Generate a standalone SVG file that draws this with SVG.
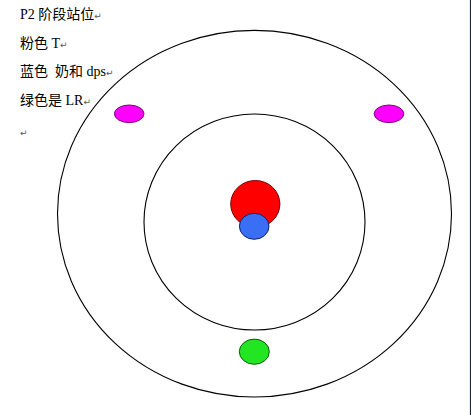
<svg xmlns="http://www.w3.org/2000/svg" width="471" height="415" viewBox="0 0 471 415">
<style>
.t{font-family:"Liberation Serif","Noto Sans CJK SC",serif;font-size:14px;fill:#000}
.m{font-family:"DejaVu Sans",sans-serif;font-size:9px;fill:#555}
.ring{fill:none;stroke:#000;stroke-width:1.1}
</style>
<rect x="0" y="0" width="471" height="415" fill="#fff"/>
<line x1="470.5" y1="0" x2="470.5" y2="415" stroke="#1c2a44" stroke-width="1.2"/>
<g id="legend">
<text class="t" x="20" y="19">P2 阶段站位<tspan class="m">↵</tspan></text>
<text class="t" x="20" y="47.5">粉色 T<tspan class="m">↵</tspan></text>
<text class="t" x="20" y="76" xml:space="preserve">蓝色  奶和 dps<tspan class="m">↵</tspan></text>
<text class="t" x="20" y="104.5">绿色是 LR<tspan class="m">↵</tspan></text>
<text class="m" x="20" y="136">↵</text>
</g>
<g id="outer-ring"><ellipse class="ring" cx="254.5" cy="213.7" rx="197" ry="183.3"/></g>
<g id="inner-ring"><ellipse class="ring" cx="254.5" cy="222" rx="110.5" ry="108"/></g>
<g id="tank-left"><ellipse cx="129.2" cy="113.8" rx="14.8" ry="8.8" fill="#ff00ff" stroke="#7a007a" stroke-width="1"/></g>
<g id="tank-right"><ellipse cx="389" cy="113.8" rx="14.8" ry="8.8" fill="#ff00ff" stroke="#7a007a" stroke-width="1"/></g>
<g id="boss"><ellipse cx="255.3" cy="204" rx="24.6" ry="23.5" fill="#ff0000" stroke="#7a0000" stroke-width="1"/></g>
<g id="healer-dps"><ellipse cx="254.2" cy="226.3" rx="14.8" ry="13" fill="#3a6ef5" stroke="#10206a" stroke-width="1"/></g>
<g id="lr"><ellipse cx="254.3" cy="351.7" rx="15" ry="12.6" fill="#22e622" stroke="#0a5a0a" stroke-width="1"/></g>
<g id="connectors"></g>
</svg>
